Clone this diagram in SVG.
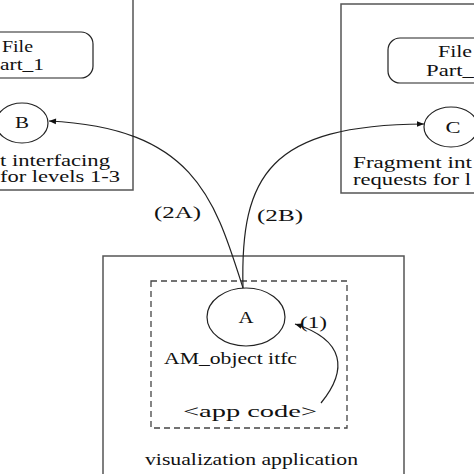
<svg xmlns="http://www.w3.org/2000/svg" width="474" height="474" viewBox="0 0 474 474">
<defs>
<style>
text{font-family:"Liberation Serif","Times New Roman",serif;fill:#111;font-size:16px}
.box{fill:none;stroke:#555;stroke-width:1.5}
.shape{fill:#fff;stroke:#222;stroke-width:1.2}
.conn{fill:none;stroke:#222;stroke-width:1.2}
.dash{fill:none;stroke:#444;stroke-width:1.3;stroke-dasharray:6,4}
</style>
<marker id="ah" viewBox="0 0 10 10" refX="10" refY="5" markerWidth="11" markerHeight="7" orient="auto" markerUnits="userSpaceOnUse">
<path d="M0,1 L10,5 L0,9 Z" fill="#111"/>
</marker>
</defs>
<rect width="474" height="474" fill="#fff"/>
<g id="left-box">
<rect class="box" x="-10" y="-10" width="143" height="200"/>
<rect class="shape" x="-12" y="32" width="105" height="46" rx="12"/>
<text x="2" y="52" textLength="31" lengthAdjust="spacingAndGlyphs">File</text>
<text x="0" y="70" textLength="44" lengthAdjust="spacingAndGlyphs">art_1</text>
<text x="0" y="166" textLength="110" lengthAdjust="spacingAndGlyphs">t interfacing</text>
<text x="0" y="182" textLength="120" lengthAdjust="spacingAndGlyphs">for levels 1-3</text>
</g>
<g id="node-B">
<ellipse class="shape" cx="22" cy="123" rx="26" ry="20"/>
<text x="22" y="128" text-anchor="middle" textLength="14" lengthAdjust="spacingAndGlyphs">B</text>
</g>
<g id="right-box">
<rect class="box" x="341" y="4" width="143" height="189"/>
<rect class="shape" x="388" y="38" width="100" height="45" rx="12"/>
<text x="438" y="57" textLength="34" lengthAdjust="spacingAndGlyphs">File</text>
<text x="426" y="76" textLength="48" lengthAdjust="spacingAndGlyphs">Part_</text>
<text x="353" y="168" textLength="119" lengthAdjust="spacingAndGlyphs">Fragment int</text>
<text x="353" y="185" textLength="118" lengthAdjust="spacingAndGlyphs">requests for l</text>
</g>
<g id="node-C">
<ellipse class="shape" cx="451" cy="127" rx="27" ry="20"/>
<text x="453" y="133" text-anchor="middle" textLength="15" lengthAdjust="spacingAndGlyphs">C</text>
</g>
<g id="app-box">
<rect class="box" x="103" y="256" width="301" height="230"/>
<rect class="dash" x="151" y="281" width="196" height="147"/>
<text x="164" y="364" textLength="133" lengthAdjust="spacingAndGlyphs">AM_object itfc</text>
<text x="183" y="417" font-size="20" textLength="134" lengthAdjust="spacingAndGlyphs">&lt;app code&gt;</text>
<text x="145" y="465" textLength="213" lengthAdjust="spacingAndGlyphs">visualization application</text>
</g>
<g id="node-A">
<ellipse class="shape" cx="246" cy="317" rx="39" ry="29"/>
<text x="246" y="323" text-anchor="middle" textLength="15" lengthAdjust="spacingAndGlyphs">A</text>
</g>
<g id="connectors">
<path class="conn" d="M243,288 C215,200 195,128 49,121" marker-end="url(#ah)"/>
<path class="conn" d="M243,288 C240,175 270,125 424,124" marker-end="url(#ah)"/>
<path class="conn" d="M321,403 C348,370 345,340 295,324" marker-end="url(#ah)"/>
<text x="154" y="218" textLength="47" lengthAdjust="spacingAndGlyphs">(2A)</text>
<text x="257" y="221" textLength="46" lengthAdjust="spacingAndGlyphs">(2B)</text>
<text x="300" y="328" textLength="27" lengthAdjust="spacingAndGlyphs">(1)</text>
</g>
</svg>
